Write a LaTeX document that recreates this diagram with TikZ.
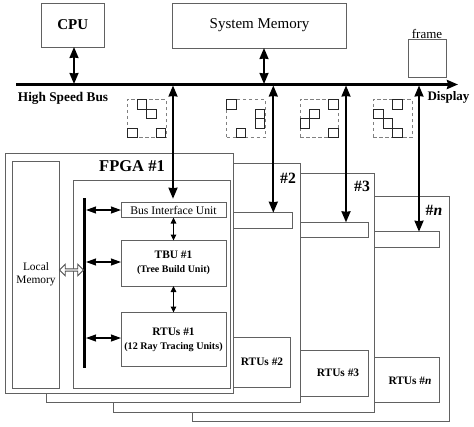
\documentclass[tikz,border=0pt]{standalone}
\usepackage{fontspec}
\setmainfont{Liberation Serif}
\usetikzlibrary{arrows.meta,shapes.arrows,positioning}
\definecolor{edge}{gray}{0.38}
\tikzset{
  box/.style={draw=edge,fill=white,line width=1pt,inner sep=0pt,outer sep=0pt,align=center},
  txt/.style={inner sep=0pt,outer sep=0pt,align=center,text=black},
  sq/.style={draw=black!85,line width=0.9pt,inner sep=0pt,outer sep=0pt,minimum size=9.6pt},
  dbox/.style={draw=gray,dash pattern=on 3.5pt off 2.5pt,line width=0.8pt,inner sep=0pt,minimum size=38.5pt},
  big/.style={line width=1.8pt,{Stealth[length=11pt,width=9pt,inset=0.5pt]}-{Stealth[length=11pt,width=9pt,inset=0.5pt]}},
  mid/.style={line width=1.4pt,{Stealth[length=10pt,width=7pt,inset=0.5pt]}-{Stealth[length=10pt,width=7pt,inset=0.5pt]}},
  small/.style={line width=1.1pt,{Stealth[length=6pt,width=5.5pt,inset=0pt]}-{Stealth[length=6pt,width=5.5pt,inset=0pt]}},
  thick bar/.style={line width=2.7pt,draw=black},
}
\newcommand{\boxat}[6]{% x1, y1, x2, y2, text, name
  \node[box,minimum width={#3-#1 pt},minimum height={#4-#2 pt}] (#6) at ({(#1+#3)/2},{(#2+#4)/2}) {#5};}
\begin{document}
\begin{tikzpicture}[x=1pt,y=-1pt]
\useasboundingbox (0,0) rectangle (474,426);
% top boxes
\boxat{41}{3}{104.5}{47}{\fontsize{15}{17}\selectfont\bfseries CPU}{cpu}
\boxat{172.5}{3}{346.5}{48}{\fontsize{15}{17}\selectfont System Memory}{mem}
\boxat{408.7}{39.5}{446.7}{77.5}{}{frm}
\node[txt,font=\fontsize{13}{15}\selectfont] (frmt) at (427,33.5) {frame};
% bus
\coordinate (busL) at (16,84.5);
\coordinate (busR) at (458,84.5);
\draw[line width=2.7pt,-{Stealth[length=11pt,width=9pt,inset=1pt]}] (busL) -- (busR);
\node[txt,font=\fontsize{13.3}{15}\selectfont\bfseries] (hsb) at (63,98) {High Speed Bus};
\node[txt,font=\fontsize{13}{15}\selectfont\bfseries] (disp) at (448.5,97) {Display};
\coordinate (b0) at (74,84);
\coordinate (b00) at (264,84);
\coordinate (b1) at (173,85.5);
\coordinate (b2) at (273.3,85.5);
\coordinate (b3) at (346,85.5);
\coordinate (b4) at (419,85.5);
\coordinate (b1e) at (173,198.7);
% packets
\node[dbox] (p1) at (146.7,118.5) {};
\node[sq] (p1a) at (142,104.3) {};
\node[sq] (p1b) at (151.7,114) {};
\node[sq] (p1c) at (132.7,132.9) {};
\node[sq] (p1d) at (161,132.9) {};
\node[dbox] (p2) at (245.8,118.5) {};
\node[sq] (p2a) at (231.5,104.3) {};
\node[sq] (p2b) at (259.8,114) {};
\node[sq] (p2c) at (259.8,123.6) {};
\node[sq] (p2d) at (240.8,132.9) {};
\node[dbox] (p3) at (319.3,118.5) {};
\node[sq] (p3a) at (333.7,104.3) {};
\node[sq] (p3b) at (314.5,114) {};
\node[sq] (p3c) at (304.9,123.6) {};
\node[sq] (p3d) at (333.7,132.9) {};
\node[dbox] (p4) at (392.7,118.5) {};
\node[sq] (p4a) at (397.5,104.3) {};
\node[sq] (p4b) at (378.2,114) {};
\node[sq] (p4c) at (387.8,123.6) {};
\node[sq] (p4d) at (397.5,132.9) {};
% FPGA n
\boxat{192.7}{196.7}{449}{421.7}{}{fn}
\boxat{330}{231.7}{439.7}{247}{}{bn}
\boxat{330}{357.7}{439.7}{402.7}{}{rn}
\node[txt,font=\fontsize{11.4}{13}\selectfont\bfseries] (rnt) at (410,380.7) {RTUs \#\textit{n}};
\node[txt,font=\fontsize{15.7}{17}\selectfont\bfseries] (fnt) at (434,210.7) {\#\textit{n}};
% FPGA 3
\boxat{113.3}{173}{374.3}{412.3}{}{f3}
\boxat{280}{222.3}{368.3}{237.7}{}{b3x}
\boxat{280}{350.7}{368.3}{396.7}{}{r3}
\node[txt,font=\fontsize{11.4}{13}\selectfont\bfseries] (r3t) at (338,373) {RTUs \#3};
\node[txt,font=\fontsize{15.7}{17}\selectfont\bfseries] (f3t) at (362,186.7) {\#3};
% FPGA 2
\boxat{46.7}{163.7}{300.7}{402.7}{}{f2}
\boxat{210}{212.7}{292.3}{228.3}{}{b2x}
\boxat{210}{337.7}{290.7}{387.3}{}{r2}
\node[txt,font=\fontsize{11.4}{13}\selectfont\bfseries] (r2t) at (262,362) {RTUs \#2};
\node[txt,font=\fontsize{15.7}{17}\selectfont\bfseries] (f2t) at (288,178.7) {\#2};
% FPGA 1
\boxat{5.5}{153}{233.5}{393.3}{}{f1}
\node[txt,font=\fontsize{16.5}{18}\selectfont\bfseries] (f1t) at (132,166) {FPGA \#1};
\boxat{12.5}{161}{59.5}{388}{\fontsize{11.4}{15}\selectfont Local\\[1pt]\fontsize{11.4}{15}\selectfont Memory}{lm}
\boxat{73.5}{180}{230.5}{388}{}{inner}
\boxat{121}{202.5}{226}{217.5}{\fontsize{11.7}{13}\selectfont Bus Interface Unit}{biu}
\boxat{121}{240.5}{226}{286}{\fontsize{11.4}{13}\selectfont\bfseries TBU \#1\\[2pt]\fontsize{10}{12}\selectfont\bfseries (Tree Build Unit)}{tbu}
\boxat{121}{312.5}{226}{366.7}{\fontsize{11.4}{13}\selectfont\bfseries RTUs \#1\\[2pt]\fontsize{10.1}{12}\selectfont\bfseries (12 Ray Tracing Units)}{rtu}
% internal bar
\coordinate (barT) at (84.5,198);
\coordinate (barB) at (84.5,368);
\draw[thick bar] (barT) -- (barB);
\node[draw=black!70,fill=white,line width=0.9pt,shape=double arrow,double arrow head extend=2pt,minimum height=24pt,minimum width=11.5pt,inner sep=0pt] (hollow) at (71.5,270) {};
% connectors
\coordinate (a1) at (86,210);
\coordinate (a2) at (86,262);
\coordinate (a3) at (86,338);
\draw[big] (b0 |- cpu.south) -- (b0);
\draw[big] (b00 |- mem.south) -- (b00);
\draw[big] (b1) -- (b1e);
\draw[big] (b2) -- (b2 |- b2x.north);
\draw[big] (b3) -- (b3 |- b3x.north);
\draw[big] (b4) -- (b4 |- bn.north);
\draw[mid] (a1) -- (a1 -| biu.west);
\draw[mid] (a2) -- (a2 -| tbu.west);
\draw[mid] (a3) -- (a3 -| rtu.west);
\draw[small] (biu.south) -- (tbu.north);
\draw[small] (tbu.south) -- (rtu.north);
\end{tikzpicture}
\end{document}
